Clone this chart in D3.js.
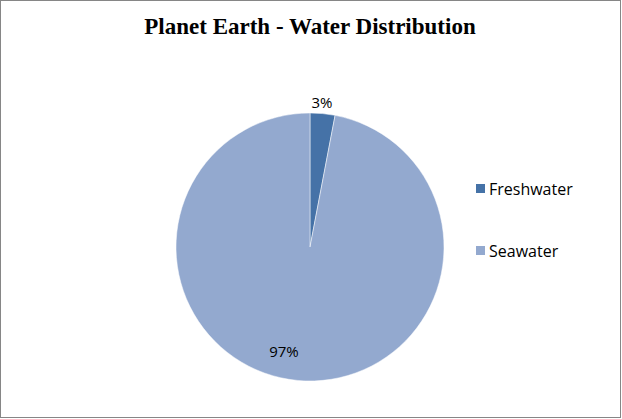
<!DOCTYPE html>
<html><head><meta charset="utf-8">
<script src="https://cdn.jsdelivr.net/npm/d3@7"></script>
<style>body{margin:0;background:#fff}</style></head>
<body><svg id="c" width="622" height="419"></svg>
<script>
const categories = ["Freshwater", "Seawater"];
const values = [3, 97];
const labels = ["3%", "97%"];
const colors = ["#4572A7", "#93A9CF"];

const svg = d3.select("#c");
svg.append("rect").attr("x",0.5).attr("y",0.5).attr("width",620).attr("height",417)
  .attr("fill","#fff").attr("stroke","#868686");
svg.append("text").attr("x",310).attr("y",34).attr("text-anchor","middle")
  .attr("font-family","Liberation Serif, serif").attr("font-weight","bold").attr("font-size",23)
  .text("Planet Earth - Water Distribution");

const cx=310, cy=247, r=134;
const pie = d3.pie().sort(null)(values);
const arc = d3.arc().innerRadius(0).outerRadius(r);
const g = svg.append("g").attr("transform",`translate(${cx},${cy})`);
g.selectAll("path").data(pie).join("path").attr("d",arc)
  .attr("fill",(d,i)=>colors[i]).attr("stroke","#fff").attr("stroke-width",0.5);

const labelPos = [[12,-139],[-26,110]];
g.selectAll("text.l").data(pie).join("text").attr("class","l")
  .attr("x",(d,i)=>labelPos[i][0]).attr("y",(d,i)=>labelPos[i][1])
  .attr("text-anchor","middle").attr("font-family","Open Sans, sans-serif").attr("font-size",15)
  .text((d,i)=>labels[i]);

const leg = svg.append("g").selectAll("g").data(categories).join("g")
  .attr("transform",(d,i)=>`translate(476,${189+i*62})`);
leg.append("rect").attr("x",0).attr("y",-5).attr("width",9).attr("height",9).attr("fill",(d,i)=>colors[i]);
leg.append("text").attr("x",13).attr("y",6).attr("font-family","Open Sans, sans-serif").attr("font-size",16)
  .text(d=>d);
</script></body></html>
